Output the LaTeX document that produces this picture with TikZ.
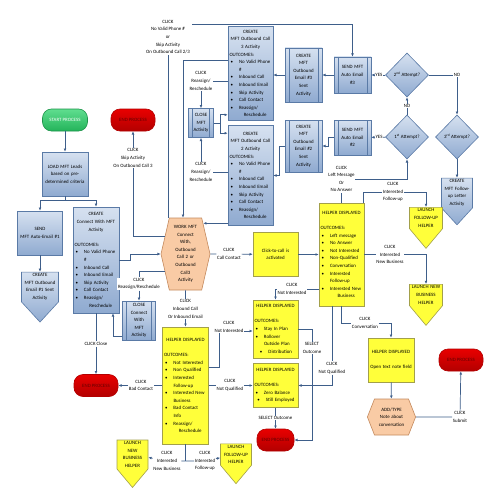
\documentclass[tikz,border=0pt]{standalone}
\usepackage{fontspec}
\setmainfont{Carlito}
\usetikzlibrary{shapes.geometric, shapes.symbols, arrows.meta}
\definecolor{bxtop}{HTML}{D6E1F0}
\definecolor{bxbot}{HTML}{8FAAD0}
\definecolor{bxline}{HTML}{5A7AA6}
\definecolor{ylw}{HTML}{FFFF3A}
\definecolor{ylwline}{HTML}{A3A04A}
\definecolor{peach}{HTML}{F9CBA5}
\definecolor{peachline}{HTML}{C48A5E}
\definecolor{endred}{HTML}{E80000}
\definecolor{enddark}{HTML}{B30000}
\definecolor{gogreen}{HTML}{2AD36A}
\definecolor{conline}{HTML}{3E5E8A}
\newcommand{\itm}[1]{\par\noindent\makebox[9.5pt][l]{\hspace{1pt}\textbullet}#1}
\newcommand{\itmx}[1]{\par\noindent\hspace*{9.5pt}#1}

\begin{document}
\begin{tikzpicture}[x=1pt,y=-1pt,
  every node/.style={font=\fontsize{4.9}{7.6}\selectfont, inner sep=1.5pt},
  conn/.style={draw=conline, line width=0.7pt},
  arr/.style={conn, -{Latex[length=3.2pt,width=2.8pt]}},
  lbl/.style={fill=white, align=center, inner sep=0.6pt},
  bluebox/.style={draw=bxline, line width=0.6pt, top color=bxtop, bottom color=bxbot, align=center},
  procbox/.style={bluebox, path picture={\draw[bxline, line width=0.5pt]
      ([xshift=4pt]path picture bounding box.north west) -- ([xshift=4pt]path picture bounding box.south west)
      ([xshift=-4pt]path picture bounding box.north east) -- ([xshift=-4pt]path picture bounding box.south east);}},
  ylwbox/.style={draw=ylwline, line width=0.6pt, fill=ylw, align=center},
  offpage/.style={signal, signal to=south, signal from=nowhere, signal pointer angle=85, line width=0.6pt, align=center},
  blueoff/.style={offpage, draw=bxline, top color=bxtop, bottom color=bxbot},
  ylwoff/.style={offpage, draw=ylwline, fill=ylw, signal pointer angle=80},
  hexa/.style={signal, signal to=east and west, signal from=nowhere, draw=peachline, fill=peach, line width=0.6pt, inner sep=0pt, align=center},
  terminal/.style={rounded corners=9pt, minimum width=44pt, minimum height=22pt, line width=0.6pt},
  endbox/.style={terminal, draw=enddark, top color=endred, bottom color=enddark, text=red!40!black},
  query/.style={diamond, draw=bxline, line width=0.6pt, top color=bxtop, bottom color=bxbot, minimum width=43pt, minimum height=44pt, inner sep=0pt}]
\fill[white] (0,0) rectangle (495,495);
\useasboundingbox (0,0) rectangle (495,495);

% start and leads
\node[terminal, draw=gogreen!70!black, top color=gogreen!75!white, bottom color=gogreen!85!black, text=white, minimum width=45pt] (start) at (65,120) {START PROCESS};
\node[endbox] (endA) at (133,120) {END PROCESS};
\node[bluebox, text width=43pt, minimum height=44pt] (load) at (65,174) {LOAD MFT Leads\\based on pre-\\determined criteria};
\node[bluebox, text width=42pt, minimum height=44pt] (send1) at (40,233) {SEND\\\mbox{MFT Auto-Email \#1}};
\node[blueoff, text width=34pt, minimum height=30pt] (email1) at (40,287) {CREATE\\MFT Outbound\\Email \#1 Sent\\Activity};
\node[bluebox, text width=43pt, minimum height=106pt] (connect) at (96,260) {CREATE\\Connect With MFT\\Activity\par\vspace{7.6pt}\raggedright OUTCOMES:\itm{No~Valid~Phone}\itmx{\#}\itm{Inbound~Call}\itm{Inbound~Email}\itm{Skip~Activity}\itm{Call~Contact}\itm{Reassign/}\itmx{Reschedule}};

% work activity
\node[hexa, text width=30pt, minimum height=72pt, minimum width=49pt, signal pointer angle=154] (work) at (185.5,254) {WORK MFT\\Connect\\With,\\Outbound\\Call 2 or\\Outbound\\Call3\\Activity};
\node[procbox, text width=30pt, minimum height=39pt] (closeLow) at (139,320.5) {CLOSE\\Connect\\With\\MFT\\Activity};
\node[endbox] (endLL) at (96,385.5) {END PROCESS};

% outbound calls 2 and 3
\node[procbox, text width=22pt, minimum height=29pt] (closeUp) at (201,123) {CLOSE\\MFT\\Activity};
\node[bluebox, text width=42pt, minimum height=94pt] (call3) at (250.5,73.5) {CREATE\\MFT Outbound Call\\3 Activity\par\raggedright OUTCOMES:\itm{No~Valid~Phone}\itmx{\#}\itm{Inbound~Call}\itm{Inbound~Email}\itm{Skip~Activity}\itm{Call~Contact}\itm{Reassign/}\itmx{Reschedule}};
\node[bluebox, text width=42pt, minimum height=100pt] (call2) at (250.5,175.5) {CREATE\\MFT Outbound Call\\2 Activity\par\raggedright OUTCOMES:\itm{No~Valid~Phone}\itmx{\#}\itm{Inbound~Call}\itm{Inbound~Email}\itm{Skip~Activity}\itm{Call~Contact}\itm{Reassign/}\itmx{Reschedule}};
\node[procbox, text width=34pt, minimum height=54pt] (email3) at (303.5,75) {CREATE\\MFT\\Outbound\\Email \#3\\Sent\\Activity};
\node[procbox, text width=34pt, minimum height=36pt] (send3) at (352.5,75) {SEND MFT\\Auto Email\\\#3};
\node[procbox, text width=34pt, minimum height=52pt] (email2) at (303.5,146) {CREATE\\MFT\\Outbound\\Email \#2\\Sent\\Activity};
\node[procbox, text width=34pt, minimum height=35pt] (send2) at (352.5,137.5) {SEND MFT\\Auto Email\\\#2};
\node[query] (dia2) at (407,75) {2\textsuperscript{nd} Attempt?};
\node[query] (dia1) at (407,137) {1\textsuperscript{st} Attempt?};
\node[query] (dia3) at (457,137) {3\textsuperscript{rd} Attempt?};
\node[blueoff, text width=28pt, minimum height=28pt] (letter) at (457,193) {CREATE\\MFT Follow-\\up Letter\\Activity};

% helpers
\node[ylwbox, text width=42pt, minimum height=44pt] (c2c) at (275.5,254.5) {Click-to-call is\\activated};
\node[ylwbox, text width=42pt, minimum height=103pt] (helper) at (341.5,254.5) {HELPER DISPLAYED\par\vspace{7.6pt}\raggedright OUTCOMES:\itm{Left~message}\itm{No~Answer}\itm{Not~Interested}\itm{Non-Qualified}\itm{Conversation}\itm{Interested}\itmx{Follow-up}\itm{Interested~New}\itmx{Business}};
\node[ylwoff, text width=30pt, minimum height=26pt] (launchFU) at (426,218) {LAUNCH\\FOLLOW-UP\\HELPER};
\node[ylwoff, text width=30pt, minimum height=26pt] (launchNB) at (426,295) {LAUNCH NEW\\BUSINESS\\HELPER};
\node[ylwbox, text width=42pt, minimum height=58pt] (stay) at (275.5,329) {HELPER DISPLAYED\par\vspace{7.6pt}\raggedright OUTCOMES:\itm{Stay~In~Plan}\itm{Rollover}\itmx{Outside~Plan}\itm{Distribution}};
\node[ylwbox, text width=42pt, minimum height=44pt] (zero) at (275.5,385.5) {HELPER DISPLAYED\par\vspace{7.6pt}\raggedright OUTCOMES:\itm{Zero~Balance}\itm{Still~Employed}};
\node[endbox, minimum width=37pt] (endM) at (275.5,440) {END PROCESS};
\node[ylwbox, text width=43pt, minimum height=44pt] (note) at (391,360) {HELPER DISPLAYED\\[7.6pt]Open text note field};
\node[hexa, text width=34pt, minimum height=36pt, signal pointer angle=137] (add) at (391.5,417) {ADD/TYPE\\Note about\\conversation};
\node[endbox] (endR) at (461,360) {END PROCESS};
\node[ylwbox, text width=43pt, minimum height=117pt] (lowh) at (185.5,385.5) {HELPER DISPLAYED\par\vspace{7.6pt}\raggedright OUTCOMES:\itm{Not~Interested}\itm{Non~Qualified}\itm{Interested}\itmx{Follow-up}\itm{Interested~New}\itmx{Business}\itm{Bad~Contact}\itmx{Info}\itm{Reassign/}\itmx{Reschedule}};
\node[ylwoff, text width=28pt, minimum height=26pt] (launchNB2) at (132.5,454.5) {LAUNCH NEW\\BUSINESS\\HELPER};
\node[ylwoff, text width=28pt, minimum height=26pt] (launchFU2) at (236,454.5) {LAUNCH\\FOLLOW-UP\\HELPER};

% click labels
\node[lbl] (lblSkip3) at (133,158) {CLICK\\Skip Activity\\On Outbound Call 3};
\node[lbl] (lblNoValid) at (168,37) {CLICK\\No Valid Phone \#\\or\\Skip Activity\\On Outbound Call 2/3};
\node[lbl] (lblRs1) at (201,81) {CLICK\\Reassign/\\Reschedule};
\node[lbl] (lblRs2) at (201,172) {CLICK\\Reassign/\\Reschedule};
\node[lbl] (lblCC) at (229,254) {CLICK\\Call Contact};
\node[lbl] (lblRR) at (139,284) {CLICK\\Reassign/Reschedule};
\node[lbl] (lblIC) at (185.5,309) {CLICK\\Inbound Call\\Or Inbound Email};
\node[lbl] (lblClose) at (96,344) {CLICK Close};
\node[lbl] (lblBC) at (141,385.5) {CLICK\\Bad Contact};
\node[lbl] (lblNQ2) at (230,385.5) {CLICK\\Not Qualified};
\node[lbl] (lblNB2) at (167,461) {CLICK\\Interested\\New Business};
\node[lbl] (lblIF2) at (205,461) {CLICK\\Interested\\Follow-up};
\node[lbl] (lblLM) at (341.5,179) {CLICK\\Left Message\\Or\\No Answer};
\node[lbl] (lblIF) at (393,192) {CLICK\\Interested\\Follow-up};
\node[lbl] (lblNB) at (390,254.5) {CLICK\\Interested\\New Business};
\node[lbl] (lblNI) at (292,289) {CLICK\\Not Interested};
\node[lbl] (lblNQ) at (332,368) {CLICK\\Not Qualified};
\node[lbl] (lblSO1) at (312,348) {SELECT\\Outcome};
\node[lbl] (lblSO2) at (275.5,418) {SELECT Outcome};
\node[lbl] (lblConv) at (365,323) {CLICK\\Conversation};
\node[lbl] (lblSub) at (460,417) {CLICK\\Submit};

\coordinate (ld) at (65,200);
\coordinate (cw) at (130,260);
\coordinate (cc) at (113,336);
\coordinate (nv) at (192,24);
\coordinate (k3) at (183,60);
\coordinate (cu) at (220,123);
\coordinate (s2) at (328,137.5);
\coordinate (e2) at (279,146);
\coordinate (ni2c) at (219,331);
\coordinate (ls) at (185.5,461);

% connectors
\draw[arr] (start) -- (load);
\draw[conn] (load) -- (ld);
\draw[arr] (ld) -| (send1);
\draw[arr] (ld) -| (connect);
\draw[arr] (send1) -- (email1);
\draw[arr] (connect.east) -- (cw) |- (work.west);
\draw[arr] (work.140) -| (lblSkip3) -- (endA);
\draw[conn] (work.north -| lblNoValid) -- (lblNoValid);
\draw[arr] (nv) -| (send3);
\draw[arr] (work) -- (lblCC) -- (c2c);
\draw[arr] (work.220) -| (lblRR) -- (closeLow);
\draw[arr] (work) -- (lblIC) -- (lowh);
\draw[arr] (closeLow.west |- cc) -- (cc) -- (cc |- connect.south);
\draw[arr] (connect) -- (lblClose) -- (endLL);
\draw[arr] (call3.west |- k3) -- (k3) -- (k3 |- work.north);
\draw[arr] (call2.west |- work.60) -- (work.60);
\draw[arr] (call3.west |- lblRs1) -- (lblRs1) -- (closeUp);
\draw[arr] (call2.west |- lblRs2) -- (lblRs2) -- (closeUp);
\draw[conn] (closeUp) -- (cu);
\draw[arr] (cu) |- ([yshift=6pt]call3.south west);
\draw[arr] (cu) |- ([yshift=-8pt]call2.north west);
\draw[arr] (send3) -- (email3);
\draw[arr] (email3.west) -- (email3.west -| call3.east);
\draw[arr] (dia2) -- node[lbl, pos=0.45] (yes2) {YES} (send3);
\draw[arr] (dia2) -| node[lbl, pos=0.5] (no2) {NO} (dia3);
\draw[arr] (dia1) -- node[lbl, pos=0.45] (yes1) {YES} (send2);
\draw[arr] (dia1) -- node[lbl] (no1) {NO} (dia2);
\draw[arr] (send2.west) -- (s2) |- (email2.east);
\draw[arr] (email2.west) -- (e2) |- (call2.east);
\draw[arr] (dia3) -- (letter);
\draw[arr] (helper) -- (lblLM) -| (dia1);
\draw[arr] (c2c) -- (helper);
\draw[arr] ([xshift=-1pt]helper.north east) |- (lblIF) -| (launchFU);
\draw[arr] (helper) -- (lblNB) -| (launchNB);
\draw[arr] (helper.west |- lblNI) -- (lblNI) -| (stay);
\draw[arr] (helper.south -| lblNQ) -- (lblNQ) |- (zero);
\draw[arr] (helper.south) |- (lblConv) -| (note);
\draw[arr] (stay.east) -| (lblSO1) |- (endM);
\draw[arr] (zero) -- (lblSO2) -- (endM);
\draw[arr] (note) -- (add);
\draw[arr] (add) -- (lblSub) -- (endR);
\draw[arr] (lowh) -- (lblBC) -- (endLL);
\draw[arr] ([yshift=18pt]lowh.east) -| (ni2c) -- (ni2c -| stay.west);
\node[lbl] (lblNI2) at (229,327) {CLICK\\Not Interested};
\draw[arr] (lowh) -- (lblNQ2) -- (zero);
\draw[conn] (lowh) -- (ls);
\draw[arr] (ls) -- (lblNB2) -- (launchNB2);
\draw[arr] (ls) -- (lblIF2) -- (launchFU2);
\end{tikzpicture}
\end{document}
